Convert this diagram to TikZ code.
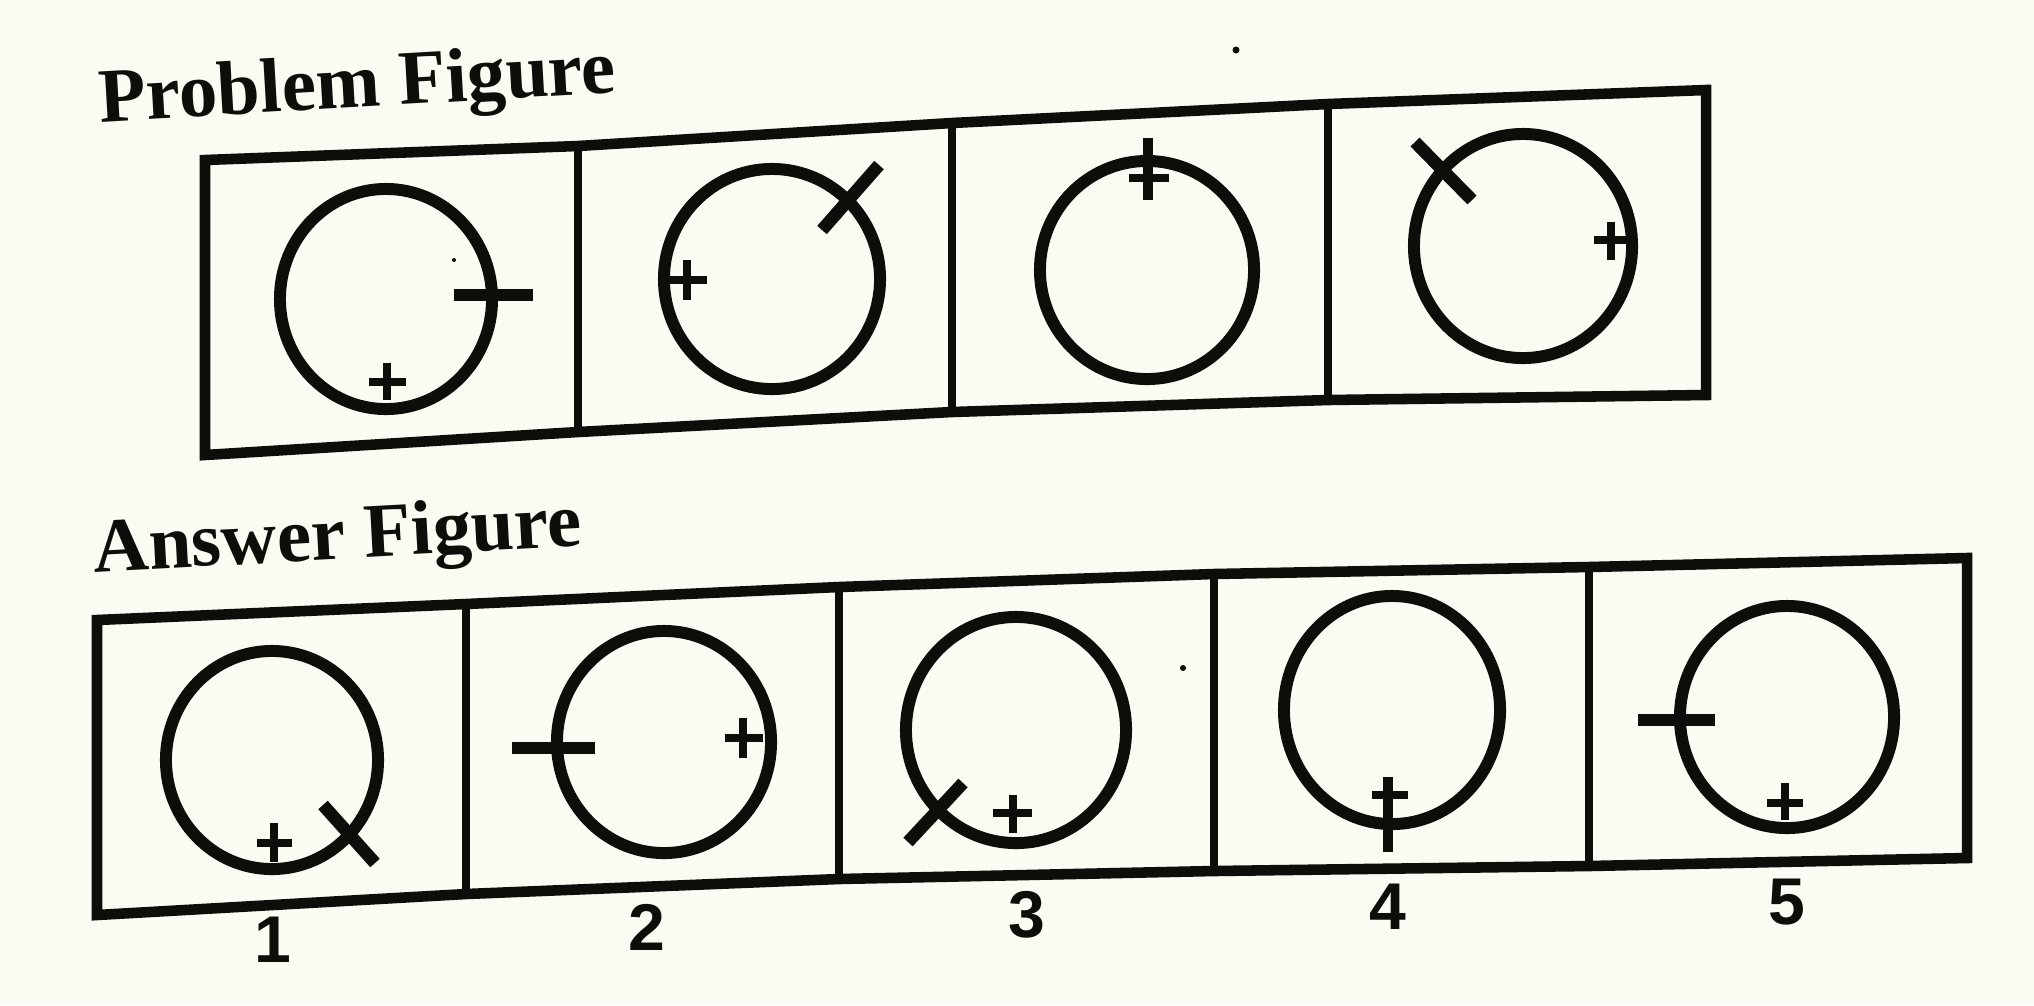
\documentclass[tikz,border=0pt]{standalone}
\usepackage{fontspec}
\usepackage{graphicx}
\setmainfont{Liberation Serif}
\newfontfamily\labelfont{Liberation Sans}
\definecolor{ink}{RGB}{15,13,10}
\definecolor{paper}{RGB}{251,250,243}
\begin{document}
\begin{tikzpicture}[x=0.01cm,y=-0.01cm,
  frame/.style={line width=3.0pt, draw=ink, line join=miter},
  divider/.style={line width=2.5pt, draw=ink},
  ring/.style={line width=3.4pt, draw=ink},
  barline/.style={line width=3.6pt, draw=ink},
  plusline/.style={line width=2.1pt, draw=ink},
  title/.style={font=\fontsize{21.9pt}{24pt}\selectfont\bfseries, anchor=base west, inner sep=0pt, text=ink},
  numlabel/.style={font=\labelfont\fontsize{18.8pt}{20pt}\selectfont\bfseries, inner sep=0pt, text=ink}]

% background / bounding box
\fill[paper] (0,0) rectangle (2034,1005);
\useasboundingbox (0,0) rectangle (2034,1005);

% titles
\node[title] (ptitle) at (97,122) {\rotatebox{3.3}{Problem Figure}};
\node[title] (atitle) at (91,572) {\rotatebox{3.1}{Answer Figure}};

% ---------- Problem figure frame ----------
\draw[frame] (205,160) -- (578,146) -- (952,123) -- (1328,104) -- (1706,90)
  -- (1706,395) -- (1328,400) -- (952,412) -- (578,432) -- (205,455) -- cycle;
\draw[divider] (578,146) -- (578,432);
\draw[divider] (952,123) -- (952,412);
\draw[divider] (1328,104) -- (1328,400);

% P1
\draw[ring] (386,299) ellipse [x radius=1.06cm, y radius=1.10cm];
\draw[barline] (454,295) -- (533,295);
\draw[plusline] (369,382) -- (406,382) (387,363) -- (387,400);
% P2
\draw[ring] (772,279) ellipse [x radius=1.08cm, y radius=1.10cm];
\draw[barline] (822,230) -- (879,165);
\draw[plusline] (667,280) -- (707,280) (687,260) -- (687,300);
% P3
\draw[ring] (1147,270) ellipse [x radius=1.07cm, y radius=1.09cm];
\draw[plusline] (1129,178) -- (1169,178);
\draw[barline, line width=2.8pt] (1148,138) -- (1148,200);
% P4
\draw[ring] (1523,246) ellipse [x radius=1.09cm, y radius=1.12cm];
\draw[barline] (1415,142) -- (1472,200);
\draw[plusline] (1594,240) -- (1629,240) (1611,222) -- (1611,260);

% ---------- Answer figure frame ----------
\draw[frame] (97,620) -- (466,604) -- (839,587) -- (1214,574) -- (1589,567) -- (1967,558)
  -- (1967,858) -- (1589,866) -- (1214,871) -- (839,879) -- (466,894) -- (97,915) -- cycle;
\draw[divider] (466,604) -- (466,894);
\draw[divider] (839,587) -- (839,879);
\draw[divider] (1214,574) -- (1214,871);
\draw[divider] (1589,567) -- (1589,866);

% A1
\draw[ring] (272,760) ellipse [x radius=1.06cm, y radius=1.09cm];
\draw[barline] (323,805) -- (375,863);
\draw[plusline] (257,843) -- (292,843) (274,823) -- (274,862);
% A2
\draw[ring] (664,742) ellipse [x radius=1.07cm, y radius=1.11cm];
\draw[barline] (512,748) -- (595,748);
\draw[plusline] (725,738) -- (763,738) (743,718) -- (743,758);
% A3
\draw[ring] (1016,730) ellipse [x radius=1.10cm, y radius=1.13cm];
\draw[barline] (908,842) -- (963,783);
\draw[plusline] (993,813) -- (1032,813) (1013,795) -- (1013,833);
% A4
\draw[ring] (1392,710) ellipse [x radius=1.08cm, y radius=1.14cm];
\draw[plusline] (1372,795) -- (1408,795);
\draw[barline, line width=2.8pt] (1388,777) -- (1388,852);
% A5
\draw[ring] (1787,717) ellipse [x radius=1.07cm, y radius=1.11cm];
\draw[barline] (1638,720) -- (1715,720);
\draw[plusline] (1767,803) -- (1803,803) (1785,783) -- (1785,820);

% labels
\node[numlabel] (l1) at (273,940) {1};
\node[numlabel] (l2) at (647,927) {2};
\node[numlabel] (l3) at (1027,915) {3};
\node[numlabel] (l4) at (1388,907) {4};
\node[numlabel] (l5) at (1787,902) {5};

% small specks
\fill[ink] (1236,50) circle [radius=0.035cm];
\fill[ink] (1183,668) circle [radius=0.03cm];
\fill[ink] (454,260) circle [radius=0.02cm];
\end{tikzpicture}
\end{document}
